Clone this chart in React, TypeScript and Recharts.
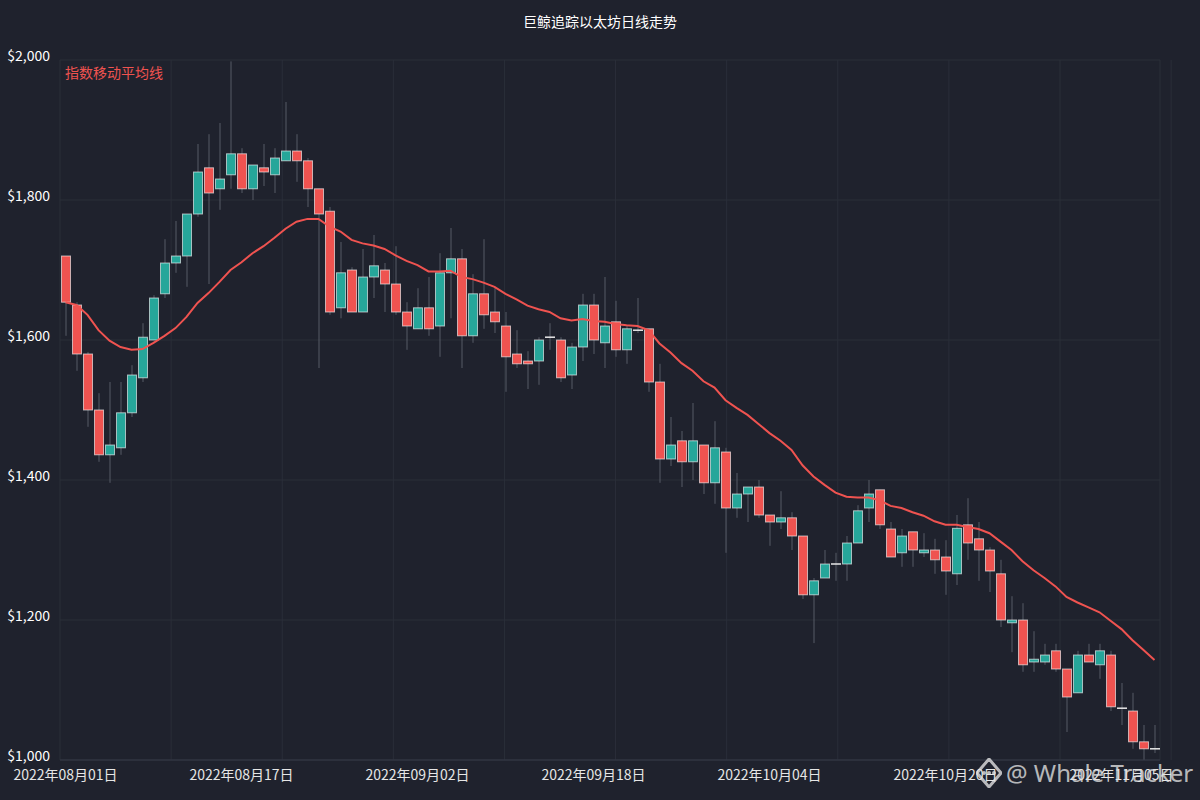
import { ComposedChart, Bar, Line, XAxis, YAxis, CartesianGrid } from 'recharts';

const opens = [
  1720, 1650, 1580, 1500, 1436, 1446, 1496, 1546, 1600, 1666,
  1710, 1720, 1780, 1846, 1816, 1836, 1866, 1816, 1846, 1836,
  1856, 1870, 1856, 1816, 1784, 1646, 1700, 1640, 1690, 1700,
  1680, 1640, 1616, 1646, 1620, 1696, 1716, 1606, 1666, 1640,
  1620, 1580, 1570, 1570, 1604, 1600, 1550, 1590, 1650, 1596,
  1626, 1586, 1614, 1616, 1540, 1430, 1456, 1426, 1450, 1396,
  1440, 1360, 1380, 1390, 1350, 1340, 1346, 1320, 1236, 1260,
  1280, 1280, 1310, 1360, 1386, 1330, 1296, 1326, 1296, 1300,
  1290, 1266, 1336, 1316, 1300, 1266, 1196, 1200, 1140, 1140,
  1156, 1130, 1096, 1150, 1136, 1150, 1074, 1070, 1026, 1016,
];

const closes = [
  1654, 1580, 1500, 1436, 1450, 1496, 1550, 1604, 1660, 1710,
  1720, 1780, 1840, 1810, 1830, 1866, 1816, 1850, 1840, 1860,
  1870, 1856, 1816, 1780, 1640, 1696, 1640, 1690, 1706, 1680,
  1640, 1620, 1646, 1616, 1696, 1716, 1606, 1666, 1636, 1626,
  1576, 1566, 1566, 1600, 1604, 1546, 1590, 1650, 1600, 1620,
  1586, 1616, 1614, 1540, 1430, 1450, 1426, 1456, 1396, 1446,
  1360, 1380, 1390, 1350, 1340, 1346, 1320, 1236, 1256, 1280,
  1280, 1310, 1356, 1380, 1336, 1290, 1320, 1300, 1300, 1286,
  1270, 1331, 1310, 1300, 1270, 1200, 1200, 1136, 1144, 1150,
  1130, 1090, 1150, 1140, 1156, 1076, 1074, 1026, 1016, 1016,
];

const highs = [
  1720, 1654, 1583, 1524, 1540, 1540, 1564, 1624, 1664, 1744,
  1770, 1780, 1880, 1894, 1910, 1998, 1874, 1850, 1880, 1874,
  1940, 1894, 1860, 1816, 1790, 1740, 1704, 1730, 1750, 1710,
  1734, 1654, 1674, 1690, 1724, 1760, 1730, 1694, 1744, 1674,
  1640, 1614, 1584, 1604, 1624, 1604, 1596, 1666, 1666, 1690,
  1656, 1620, 1660, 1616, 1566, 1490, 1470, 1510, 1450, 1484,
  1446, 1410, 1390, 1400, 1350, 1384, 1354, 1320, 1260, 1300,
  1296, 1320, 1364, 1400, 1386, 1340, 1330, 1326, 1324, 1316,
  1314, 1350, 1374, 1340, 1304, 1286, 1234, 1224, 1184, 1166,
  1166, 1130, 1156, 1166, 1166, 1156, 1110, 1096, 1050, 1050,
];

const lows = [
  1606, 1556, 1476, 1426, 1396, 1436, 1490, 1540, 1600, 1660,
  1696, 1676, 1776, 1680, 1786, 1816, 1810, 1800, 1820, 1810,
  1856, 1826, 1790, 1560, 1636, 1631, 1640, 1640, 1660, 1640,
  1636, 1586, 1616, 1606, 1576, 1631, 1560, 1596, 1616, 1610,
  1526, 1560, 1530, 1536, 1586, 1540, 1530, 1570, 1580, 1560,
  1576, 1566, 1610, 1526, 1396, 1420, 1390, 1400, 1380, 1366,
  1296, 1346, 1340, 1346, 1306, 1330, 1300, 1230, 1167, 1260,
  1256, 1256, 1310, 1340, 1330, 1290, 1276, 1276, 1290, 1266,
  1236, 1250, 1286, 1256, 1240, 1190, 1154, 1126, 1126, 1136,
  1126, 1040, 1096, 1140, 1116, 1070, 1050, 1016, 1000, 1010,
];

// 指数移动平均线
const ema = [
  1654, 1650, 1636, 1614, 1599, 1590, 1586, 1587, 1596, 1606,
  1617, 1633, 1653, 1667, 1683, 1700, 1711, 1724, 1734, 1746,
  1759, 1769, 1773, 1773, 1762, 1755, 1743, 1738, 1735, 1730,
  1721, 1713, 1707, 1698, 1698, 1699, 1690, 1687, 1682, 1676,
  1666, 1658, 1649, 1644, 1640, 1631, 1628, 1630, 1627, 1626,
  1623, 1621, 1620, 1614, 1595, 1582, 1567, 1556, 1541, 1532,
  1514, 1503, 1493, 1480, 1467, 1456, 1443, 1421, 1405, 1393,
  1382, 1376, 1375, 1375, 1371, 1363, 1360, 1354, 1349, 1341,
  1336, 1336, 1333, 1330, 1324, 1312, 1300, 1284, 1271, 1260,
  1248, 1233, 1225, 1218, 1211, 1199, 1187, 1171, 1157, 1143,
];

const yTicks = [1000, 1200, 1400, 1600, 1800, 2000];
const gridTicks = [0, 10, 20, 30, 40, 50, 60, 70, 80, 90, 100];

const pad = (n: number) => String(n).padStart(2, '0');
const firstDay = Date.UTC(2022, 7, 1);
const dates = opens.map((_, i) => {
  const d = new Date(firstDay + i * 86400000);
  return `${d.getUTCFullYear()}年${pad(d.getUTCMonth() + 1)}月${pad(d.getUTCDate())}日`;
});

const chartData = dates.map((date, i) => ({
  date,
  open: opens[i],
  close: closes[i],
  high: highs[i],
  low: lows[i],
  ema: ema[i],
}));

const BG = '#1f222d';
const GRID = '#2a2e39';
const UP = '#26a69a';
const DOWN = '#ef5350';
const FONT = '"Noto Sans CJK SC", "Noto Sans", sans-serif';

function Candle(props: any) {
  const { x, y, width, height, payload } = props;
  const { open, close, high, low } = payload;
  const ratio = height / (high - low);
  const cx = x + width / 2;
  const yOpen = y + (high - open) * ratio;
  const yClose = y + (high - close) * ratio;
  const top = Math.min(yOpen, yClose);
  const bodyH = Math.abs(yOpen - yClose);

  return (
    <g>
      <line x1={cx} x2={cx} y1={y} y2={y + height} stroke="#575b66" strokeWidth={1} />
      {open === close ? (
        <line x1={x} x2={x + width} y1={top} y2={top} stroke="#e8e8e8" strokeWidth={1.5} />
      ) : (
        <rect
          x={x + 0.5}
          y={top}
          width={width - 1}
          height={bodyH}
          fill={close > open ? UP : DOWN}
          stroke="rgba(255,255,255,0.6)"
          strokeWidth={1}
        />
      )}
    </g>
  );
}

export default function App() {
  return (
    <div
      style={{
        position: 'absolute',
        left: 0,
        top: 0,
        width: 1200,
        height: 800,
        background: BG,
        fontFamily: FONT,
        overflow: 'hidden',
      }}
    >
      <div
        style={{
          position: 'absolute',
          top: 11,
          left: 0,
          width: 1200,
          textAlign: 'center',
          color: '#ffffff',
          fontSize: 14,
          lineHeight: '20px',
        }}
      >
        巨鲸追踪以太坊日线走势
      </div>

      <ComposedChart
        width={1200}
        height={800}
        data={chartData}
        margin={{ top: 60, right: 40, bottom: 10, left: 0 }}
      >
        <XAxis xAxisId="grid" type="number" domain={[0, 100]} ticks={gridTicks} hide />
        <CartesianGrid xAxisId="grid" stroke={GRID} strokeWidth={1} />
        <XAxis
          dataKey="date"
          interval={15}
          height={30}
          tick={{ fill: '#e6e6e6', fontSize: 14, fontFamily: FONT }}
          tickLine={false}
          tickMargin={4}
          axisLine={{ stroke: '#343846' }}
        />
        <YAxis
          domain={[1000, 2000]}
          ticks={yTicks}
          width={60}
          tick={{ fill: '#ffffff', fontSize: 14, fontFamily: FONT, dy: -4 }}
          tickFormatter={(v) => `$${Number(v).toLocaleString('en-US')}`}
          tickLine={false}
          axisLine={false}
          tickSize={0}
          tickMargin={10}
        />
        <Bar
          dataKey={(d: any) => [d.low, d.high]}
          barSize={10}
          shape={Candle}
          isAnimationActive={false}
        />
        <Line
          dataKey="ema"
          type="linear"
          stroke={DOWN}
          strokeWidth={2}
          dot={false}
          activeDot={false}
          isAnimationActive={false}
        />
      </ComposedChart>

      <div
        style={{
          position: 'absolute',
          top: 62,
          left: 65,
          color: DOWN,
          fontSize: 14,
          lineHeight: '20px',
        }}
      >
        指数移动平均线
      </div>

      <div
        style={{
          position: 'absolute',
          left: 976,
          top: 757,
          display: 'flex',
          alignItems: 'center',
          gap: 4,
          color: 'rgba(225,225,225,0.8)',
          fontSize: 24,
          lineHeight: '32px',
          fontFamily: '"Noto Sans", sans-serif',
        }}
      >
        <svg width={26} height={30} viewBox="0 0 26 30">
          <path d="M13 1 L25 15 L13 29 L1 15 Z" fill="none" stroke="rgba(225,225,225,0.8)" strokeWidth={3} />
          <circle cx={8} cy={15} r={2} fill="rgba(225,225,225,0.8)" />
          <circle cx={13} cy={15} r={2} fill="rgba(225,225,225,0.8)" />
          <circle cx={18} cy={15} r={2} fill="rgba(225,225,225,0.8)" />
        </svg>
        <span>@ Whale Tracker</span>
      </div>
    </div>
  );
}
